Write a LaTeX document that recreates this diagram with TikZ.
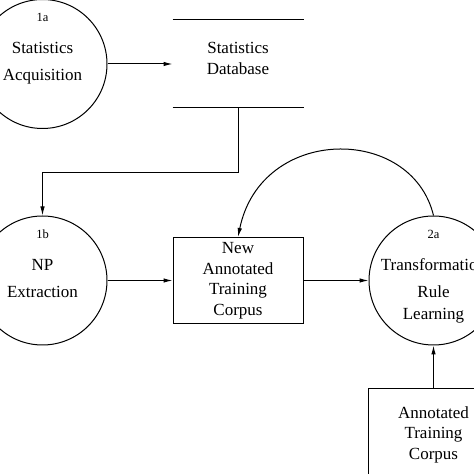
\documentclass[tikz,border=0pt]{standalone}
\usepackage{fontspec}
\setmainfont{Liberation Serif}
\usetikzlibrary{positioning, arrows.meta}

\tikzset{
  proc/.style  = {circle, draw, minimum size = 129pt, inner sep = 0pt, align = center, text width = 120pt,
                  font = \fontsize{17}{27}\selectfont, text height = 11pt, text depth = 31pt},
  store/.style = {minimum width = 130pt, minimum height = 87pt, inner sep = 0pt, align = center, text width = 120pt,
                  font = \fontsize{17}{21}\selectfont, text height = 11pt, text depth = 31pt},
  file/.style  = {draw, minimum width = 130pt, inner sep = 0pt, align = center,
                  font = \fontsize{17}{20.5}\selectfont},
  num/.style   = {anchor = base, inner sep = 0pt, font = \fontsize{12.5}{14}\selectfont}
}

\begin{document}
\begin{tikzpicture}[>={Latex[length=9pt, width=4.5pt]}, line width = 1pt, node distance = 65pt]
            \useasboundingbox (0,0) rectangle (474pt,474pt);

            \node[proc] (a1) at (42.5pt,410pt) {Statistics\\Acquisition};
            \node[store] (db) [right = of a1] {Statistics\\Database};
            \node[proc] (b1) [below = 86.5pt of a1] {NP\\Extraction};
            \node[file, minimum height = 86pt] (corpus) [right = of b1] {New\\Annotated\\Training\\Corpus};
            \node[proc] (a2) [right = of corpus] {Transformation\\Rule\\[-5pt]Learning};
            \node[file, minimum height = 91pt] (anno) [below = 43pt of a2] {Annotated\\Training\\Corpus};

            \node[num] (n1a) at ([yshift = -23pt]a1.north) {1a};
            \node[num] (n1b) at ([yshift = -23pt]b1.north) {1b};
            \node[num] (n2a) at ([yshift = -23pt]a2.north) {2a};

            % data store lines
            \draw (db.north west) -- (db.north east)
                  (db.south west) -- (db.south east);

            \path[->]
              (a1) edge (db)
              (b1) edge (corpus)
              (corpus) edge (a2)
              (anno) edge (a2)
            ;
            \draw[->] (db.south) -- ++(0,-64.5pt) -| (b1.north);
            \draw[->] (a2.north) .. controls +(-22pt,91pt) and +(23pt,112pt) .. (corpus.north);
          \end{tikzpicture}
\end{document}
